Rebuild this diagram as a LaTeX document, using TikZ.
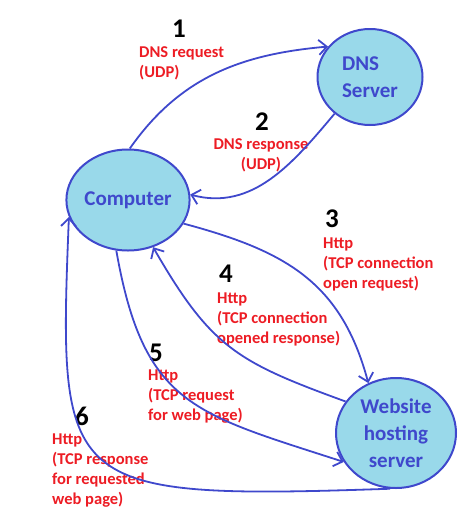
\documentclass[tikz,border=0pt]{standalone}
\usepackage{fontspec}
\setmainfont{Carlito}
\usetikzlibrary{shapes.geometric}
\usetikzlibrary{arrows.meta}
\definecolor{pblue}{HTML}{3F48CC}
\definecolor{pfill}{HTML}{99D9EA}
\definecolor{pred}{HTML}{ED1C24}

\begin{document}
\begin{tikzpicture}[x=1pt, y=1pt,
  host/.style={ellipse, draw=pblue, line width=2pt, fill=pfill, inner sep=0, text=pblue,
    font=\fontsize{21}{27}\selectfont\bfseries},
  link/.style={pblue, line width=1.8pt, ->, >={Straight Barb[length=8pt,width=15pt]}},
  stepno/.style={anchor=north, inner sep=0, font=\fontsize{27}{27}\selectfont\bfseries},
  note/.style={anchor=north west, inner sep=0, text=pred, align=left,
    font=\fontsize{16.5}{20}\selectfont\bfseries}]
\useasboundingbox (0,0) rectangle (474,-531);
% hosts
\node[host, minimum width=110pt, minimum height=101pt] (comp) at (128,-200) {Computer};
\node[host, minimum width=105pt, minimum height=96pt, align=left] (dns) at (370,-77) {DNS\\Server};
\node[host, minimum width=120pt, minimum height=110pt, align=center] (web) at (396,-433) {Website\\hosting\\server};
% step numbers
\node[stepno] (n1) at (179,-20) {1};
\node[stepno] (n2) at (262,-113) {2};
\node[stepno] (n3) at (332,-210) {3};
\node[stepno] (n4) at (226,-265) {4};
\node[stepno] (n5) at (156,-344) {5};
\node[stepno] (n6) at (82,-407) {6};
% messages
\node[note] (l1) at (139,-46) {DNS request\\(UDP)};
\node[note, anchor=north, align=center] (l2) at (261,-138) {DNS response\\(UDP)};
\node[note] (l3) at (323,-238) {Http\\(TCP connection\\open request)};
\node[note] (l4) at (217,-293) {Http\\(TCP connection\\opened response)};
\node[note] (l5) at (148,-370) {Http\\(TCP request\\for web page)};
\node[note] (l6) at (52,-434) {Http\\(TCP response\\for requested\\web page)};
% connectors
\draw[link] (comp.88) to[out=55, in=185] (dns.144);
\draw[link] (dns.226) to[out=230, in=-15] (comp.5);
\draw[link] (comp.-23) to[out=-15, in=105, looseness=1.1] (web.119);
\draw[link] (web.148) to[out=160, in=-60, looseness=1.2] (comp.-62);
\draw[link] (comp.-103) to[out=-80, in=162, looseness=1.3] (web.209);
\draw[link] (web.264) .. controls (60,-500) and (58,-490) .. (comp.196);
\end{tikzpicture}
\end{document}
